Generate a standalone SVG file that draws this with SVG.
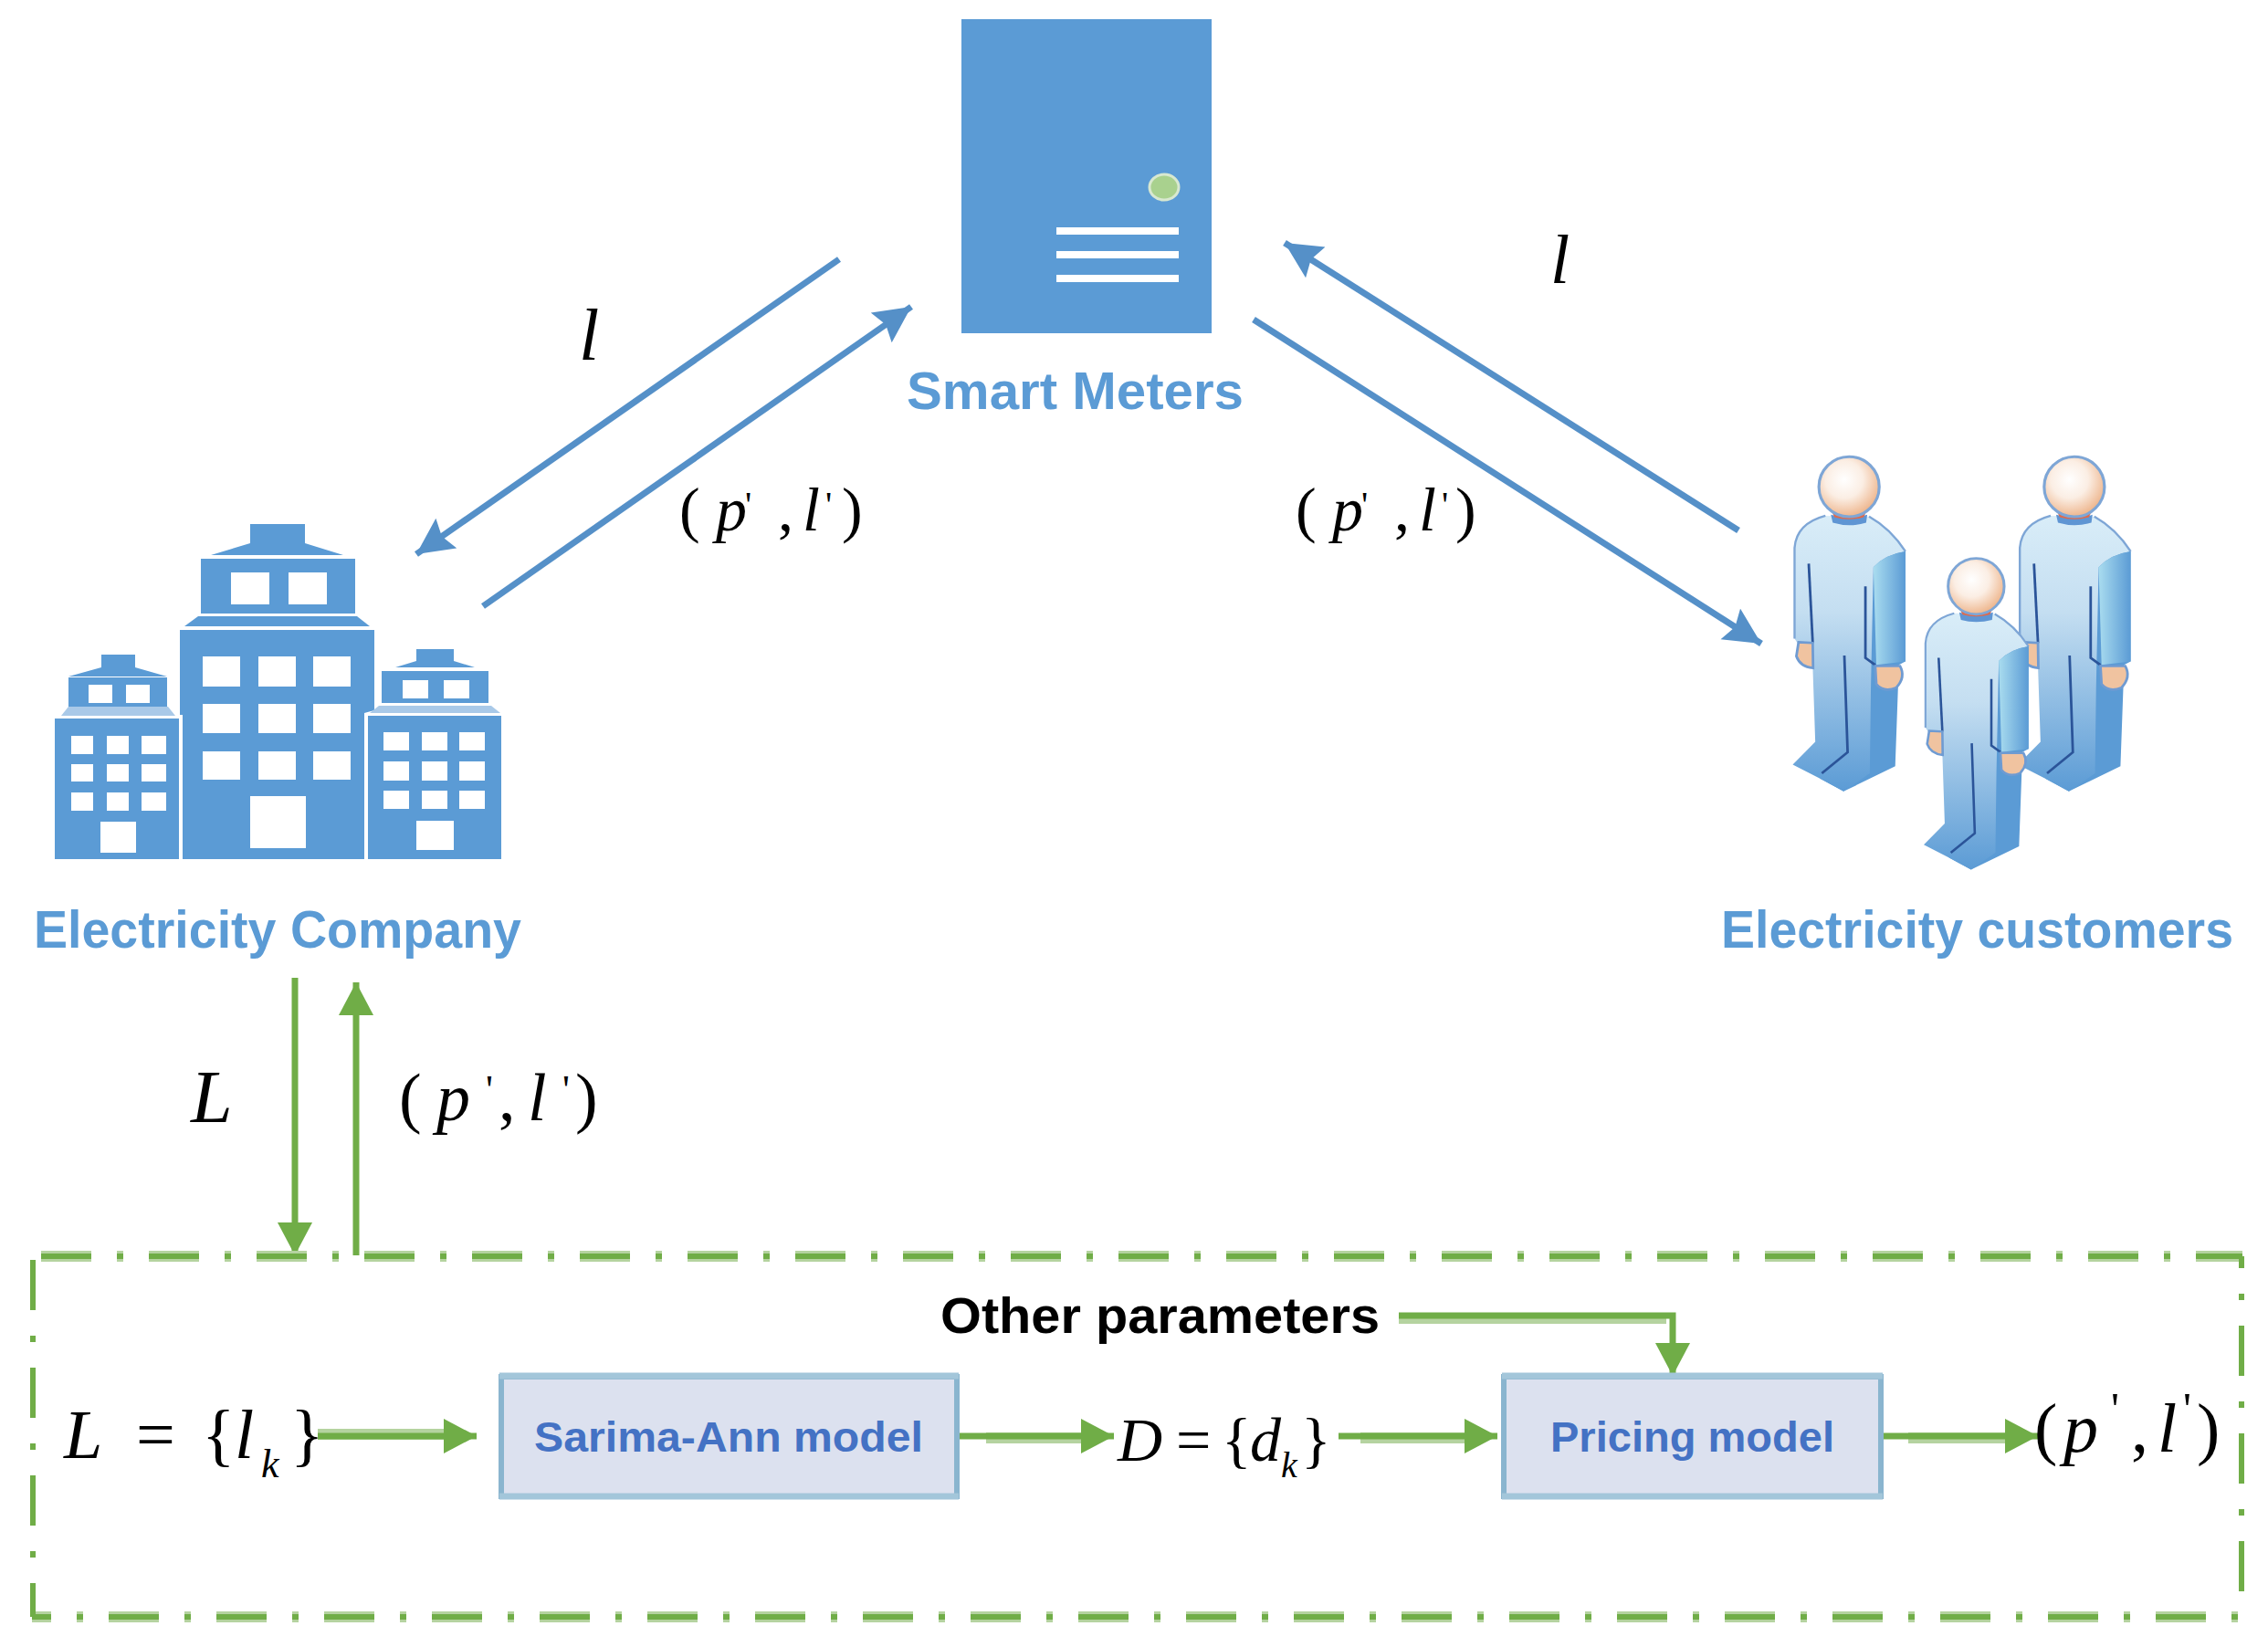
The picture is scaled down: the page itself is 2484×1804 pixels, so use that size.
<svg xmlns="http://www.w3.org/2000/svg" xmlns:xlink="http://www.w3.org/1999/xlink" width="2484" height="1804" viewBox="0 0 2484 1804">
<style>
.b{fill:#5b9bd5}.w{fill:#fff}.ws{fill:#a9c9e8}
.cap{font-family:"Liberation Sans",Arial,sans-serif;font-weight:700;fill:#5b9bd5;font-size:57px}
.blk{font-family:"Liberation Sans",Arial,sans-serif;font-weight:700;fill:#000;font-size:56px}
.mod{font-family:"Liberation Sans",Arial,sans-serif;font-weight:700;fill:#4472c4;font-size:46px}
.m{font-family:"Liberation Serif","Times New Roman",serif;fill:#000}
.i{font-style:italic}
.blue{fill:none;stroke:#5590c8;stroke-width:7;marker-end:url(#hb)}
.gr{fill:none;stroke:#70ad47;stroke-width:7;marker-end:url(#hg)}
.grs{fill:none;stroke:#b5d3a0;stroke-width:12}
.dl{fill:none;stroke:#b5d3a0;stroke-width:12;stroke-dasharray:55 28 7 28}
.dd{fill:none;stroke:#70ad47;stroke-width:6;stroke-dasharray:55 28 7 28}
.dv{fill:none;stroke:#70ad47;stroke-width:6;stroke-dasharray:55 28 7 28}
.box{fill:#dce1ef;stroke:#8ab5cf;stroke-width:6}
.boxe{fill:none;stroke:#a3c6da;stroke-width:7}
.sk{fill:#f0c3a0;stroke:#6f9bd2;stroke-width:7}
.ln{fill:none;stroke:#2b5499;stroke-width:7}
</style>
<defs>
<marker id="hb" markerUnits="userSpaceOnUse" markerWidth="44" markerHeight="44" refX="40" refY="20" orient="auto"><path d="M0,0L40,20L0,40L6,20Z" fill="#5590c8"/></marker>
<marker id="hg" markerUnits="userSpaceOnUse" markerWidth="44" markerHeight="44" refX="36" refY="20" orient="auto"><path d="M0,1L36,20L0,39Z" fill="#70ad47"/></marker>
<radialGradient id="hd" cx="0.42" cy="0.38" r="0.62"><stop offset="0" stop-color="#fff"/><stop offset="0.5" stop-color="#fbeee4"/><stop offset="1" stop-color="#eeb78f"/></radialGradient>
<linearGradient id="bd" x1="0" y1="0" x2="0" y2="1"><stop offset="0" stop-color="#d9edf8"/><stop offset="0.35" stop-color="#c4def1"/><stop offset="1" stop-color="#5b9bd5"/></linearGradient>
<linearGradient id="arm" x1="0" y1="0" x2="1" y2="0"><stop offset="0" stop-color="#a9dcef"/><stop offset="1" stop-color="#5b9bd5"/></linearGradient>
<g id="person">
<path class="b" d="M470,350H570L570,665L552,675L542,965L400,1037L335,1000Z"/>
<path fill="url(#bd)" d="M265,600L265,340Q270,270 350,248L470,250Q530,285 570,350Q515,358 482,395L475,740L472,985L400,1037L335,1000L260,960L322,895L315,680Z"/>
<path fill="none" stroke="#7ea6d6" stroke-width="6" d="M265,600L265,340Q270,270 350,248M470,250Q530,285 570,350"/>
<path fill="url(#arm)" d="M482,395Q515,358 570,350L570,665L490,675Z"/>
<path class="ln" d="M304,385L315,612"/>
<path class="ln" d="M460,450L460,655L487,675"/>
<path class="ln" d="M402,648L411,925L340,985"/>
<path class="sk" d="M276,610L315,612L316,684Q280,680 270,650Z"/>
<path class="sk" stroke="#234a8e" d="M487,678L555,678Q572,710 545,740Q510,755 490,730Z"/>
<path fill="#5f95d3" d="M365,245Q415,262 465,245L462,268Q415,282 370,268Z"/>
<path fill="#e0694a" d="M368,238Q415,262 462,238L455,252Q415,264 375,252Z"/>
<ellipse cx="415" cy="165" rx="83" ry="86" fill="url(#hd)" stroke="#7ea6d6" stroke-width="8"/>
</g>
</defs>
<rect width="2484" height="1804" fill="#fff"/>
<g id="connectors">
<line class="blue" x1="919" y1="284" x2="456" y2="607"/>
<line class="blue" x1="529" y1="664" x2="998" y2="336"/>
<line class="blue" x1="1904" y1="581" x2="1407" y2="266"/>
<line class="blue" x1="1373" y1="350" x2="1929" y2="705"/>
<line class="gr" x1="323" y1="1071" x2="323" y2="1375"/>
<line class="gr" x1="390" y1="1375" x2="390" y2="1076"/>
<line class="grs" x1="348" y1="1571" x2="490" y2="1571"/>
<line class="gr" x1="348" y1="1573" x2="522" y2="1573"/>
<line class="grs" x1="1080" y1="1575" x2="1190" y2="1575"/>
<line class="gr" x1="1049" y1="1573" x2="1220" y2="1573"/>
<line class="grs" x1="1490" y1="1575" x2="1610" y2="1575"/>
<line class="gr" x1="1466" y1="1573" x2="1640" y2="1573"/>
<line class="grs" x1="2090" y1="1575" x2="2200" y2="1575"/>
<line class="gr" x1="2062" y1="1573" x2="2232" y2="1573"/>
<path class="grs" d="M1532,1444H1825"/>
<path class="gr" d="M1532,1441H1832V1507"/>
<g id="dashed-frame">
<path class="dl" d="M45,1376H2456"/>
<path class="dd" d="M45,1376H2456"/>
<path class="dl" d="M35,1771H2456" stroke-dashoffset="34"/>
<path class="dd" d="M35,1771H2456" stroke-dashoffset="34"/>
<path class="dv" d="M36,1380V1771"/>
<path class="dv" d="M2455,1376V1771" stroke-dashoffset="42"/>
</g>
</g>
<g id="smart-meters">
<rect class="b" x="1053" y="21" width="274" height="344"/>
<ellipse cx="1275" cy="205" rx="16" ry="14" fill="#a9d18e" stroke="#d8e8d0" stroke-width="3"/>
<rect class="w" x="1157" y="249" width="134" height="8"/>
<rect class="w" x="1157" y="275" width="134" height="8"/>
<rect class="w" x="1157" y="301" width="134" height="8"/>
<text class="cap" x="993" y="448" textLength="369" lengthAdjust="spacingAndGlyphs">Smart Meters</text>
</g>
<g id="electricity-company">
<path class="b" d="M274,574H334V595L376,608H231L274,595Z"/>
<rect class="b" x="220" y="612" width="169" height="60"/>
<path class="b" d="M217,675H391L405,686H202Z"/>
<path class="b" d="M197,690H410V778L399,781V941H200V783H197Z"/>
<g class="w">
<rect x="253" y="627" width="42" height="35"/><rect x="316" y="627" width="42" height="35"/>
<rect x="222" y="719" width="41" height="33"/><rect x="283" y="719" width="41" height="33"/><rect x="343" y="719" width="41" height="33"/>
<rect x="222" y="771" width="41" height="32"/><rect x="283" y="771" width="41" height="32"/><rect x="343" y="771" width="41" height="32"/>
<rect x="222" y="823" width="41" height="31"/><rect x="283" y="823" width="41" height="31"/><rect x="343" y="823" width="41" height="31"/>
<rect x="274" y="872" width="61" height="57"/>
</g>
<path class="b" d="M111,717H148V731L183,741H75L111,731Z"/>
<rect class="b" x="75" y="742" width="108" height="32"/>
<path class="ws" d="M75,774H184L192,784H67Z"/>
<rect class="b" x="60" y="787" width="136" height="154"/>
<g class="w">
<rect x="97" y="750" width="26" height="20"/><rect x="138" y="750" width="26" height="20"/>
<rect x="78" y="806" width="24" height="20"/><rect x="117" y="806" width="24" height="20"/><rect x="155" y="806" width="27" height="20"/>
<rect x="78" y="837" width="24" height="19"/><rect x="117" y="837" width="24" height="19"/><rect x="155" y="837" width="27" height="19"/>
<rect x="78" y="868" width="24" height="20"/><rect x="117" y="868" width="24" height="20"/><rect x="155" y="868" width="27" height="20"/>
<rect x="110" y="900" width="39" height="34"/>
</g>
<path class="b" d="M456,711H497V724L520,731H433L456,724Z"/>
<rect class="b" x="418" y="735" width="117" height="35"/>
<path class="ws" d="M415,773H538L548,781H405Z"/>
<rect class="b" x="403" y="784" width="146" height="157"/>
<g class="w">
<rect x="441" y="745" width="28" height="20"/><rect x="486" y="745" width="28" height="20"/>
<rect x="420" y="802" width="28" height="20"/><rect x="462" y="802" width="28" height="20"/><rect x="503" y="802" width="28" height="20"/>
<rect x="420" y="834" width="28" height="21"/><rect x="462" y="834" width="28" height="21"/><rect x="503" y="834" width="28" height="21"/>
<rect x="420" y="866" width="28" height="20"/><rect x="462" y="866" width="28" height="20"/><rect x="503" y="866" width="28" height="20"/>
<rect x="456" y="899" width="41" height="32"/>
</g>
<text class="cap" x="37" y="1038" textLength="534" lengthAdjust="spacingAndGlyphs">Electricity Company</text>
</g>
<g id="electricity-customers">
<g transform="translate(1860,470) scale(0.398,0.3827)"><use xlink:href="#person" href="#person"/></g>
<g transform="translate(2106.7,470) scale(0.398,0.3827)"><use xlink:href="#person" href="#person"/></g>
<g transform="translate(2010.8,583.5) scale(0.370,0.3559)"><use xlink:href="#person" href="#person"/></g>
<text class="cap" x="1885" y="1038" textLength="561" lengthAdjust="spacingAndGlyphs">Electricity customers</text>
</g>
<g id="sarima-ann-model">
<rect class="box" x="549" y="1508" width="499" height="131"/>
<path class="boxe" d="M547,1507H1050M547,1639H1050"/>
<text class="mod" x="585" y="1590" textLength="426" lengthAdjust="spacingAndGlyphs">Sarima-Ann model</text>
</g>
<g id="pricing-model">
<rect class="box" x="1647" y="1508" width="413" height="131"/>
<path class="boxe" d="M1645,1507H2062M1645,1639H2062"/>
<text class="mod" x="1698" y="1590" textLength="311" lengthAdjust="spacingAndGlyphs">Pricing model</text>
</g>
<g id="labels">
<text class="blk" x="1030" y="1460" textLength="481" lengthAdjust="spacingAndGlyphs">Other parameters</text>
<text class="m i" x="634" y="394" font-size="80">l</text>
<text class="m i" x="1698" y="310" font-size="76">l</text>
<text class="m i" x="209" y="1229" font-size="82">L</text>
<text class="m" font-size="68" y="581"><tspan x="744">(</tspan><tspan class="i" x="784">p</tspan><tspan x="816" y="566" font-size="40">'</tspan><tspan x="852" y="581">,</tspan><tspan class="i" x="879">l</tspan><tspan x="904" y="566" font-size="40">'</tspan><tspan x="922" y="581">)</tspan></text>
<text class="m" font-size="68" y="581"><tspan x="1419">(</tspan><tspan class="i" x="1459">p</tspan><tspan x="1491" y="566" font-size="40">'</tspan><tspan x="1527" y="581">,</tspan><tspan class="i" x="1554">l</tspan><tspan x="1579" y="566" font-size="40">'</tspan><tspan x="1594" y="581">)</tspan></text>
<text class="m" font-size="74" y="1227"><tspan x="437">(</tspan><tspan class="i" x="478">p</tspan><tspan x="532" y="1208" font-size="44">'</tspan><tspan x="546" y="1227">,</tspan><tspan class="i" x="578">l</tspan><tspan x="616" y="1208" font-size="44">'</tspan><tspan x="630" y="1227">)</tspan></text>
<text class="m" font-size="76" y="1590"><tspan x="2228">(</tspan><tspan class="i" x="2260">p</tspan><tspan x="2312" y="1560" font-size="50">'</tspan><tspan x="2334" y="1590">,</tspan><tspan class="i" x="2363">l</tspan><tspan x="2391" y="1560" font-size="50">'</tspan><tspan x="2406" y="1590">)</tspan></text>
<text class="m" font-size="76" y="1597"><tspan class="i" x="70">L</tspan><tspan x="149">=</tspan><tspan x="221">{</tspan><tspan class="i" x="257">l</tspan><tspan class="i" x="286" y="1618" font-size="44">k</tspan><tspan x="318" y="1597">}</tspan></text>
<text class="m" font-size="68" y="1600"><tspan class="i" x="1224">D</tspan><tspan x="1288">=</tspan><tspan x="1338">{</tspan><tspan class="i" x="1369">d</tspan><tspan class="i" x="1403" y="1618" font-size="40">k</tspan><tspan x="1425" y="1600">}</tspan></text>
</g>
</svg>
